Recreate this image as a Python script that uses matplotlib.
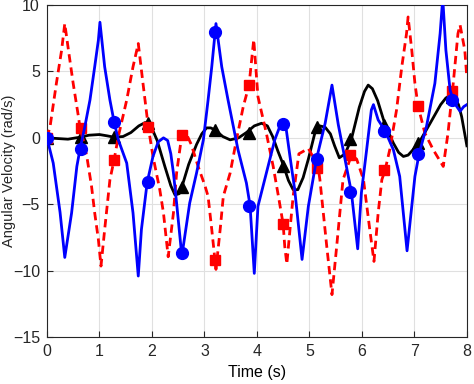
import numpy as np
import matplotlib
matplotlib.use("Agg")
import matplotlib.pyplot as plt

plt.rcParams['font.family'] = ['Liberation Sans', 'DejaVu Sans']

# Blue series (solid line, circles)
t_blue = [0, 0.12, 0.25, 0.34, 0.47, 0.57, 0.63, 0.72, 0.82, 0.91, 0.98, 1.01,
          1.1, 1.2, 1.28, 1.36, 1.52, 1.64, 1.74, 1.8, 1.91, 2.02, 2.12, 2.22,
          2.3, 2.36, 2.41, 2.47, 2.57, 2.72, 2.85, 2.98, 3.07, 3.14, 3.22, 3.33, 3.45,
          3.64, 3.8, 3.87, 3.95, 4.02, 4.18, 4.34, 4.44, 4.5, 4.56, 4.63, 4.72, 4.86, 4.98,
          5.14, 5.3, 5.43, 5.55, 5.68, 5.8, 5.92, 5.99, 6.09, 6.18, 6.22, 6.31,
          6.44, 6.6, 6.72, 6.86, 7.01, 7.09, 7.23, 7.39, 7.49, 7.54, 7.6, 7.68,
          7.74, 7.8, 7.87, 7.94, 8.0]
v_blue = [0, -1.9, -5.6, -9.0, -5.65, -2.15, -0.85, 0.8, 2.85, 5.35, 7.35, 8.7,
          5.35, 2.85, 1.2, -0.15, -1.9, -5.65, -10.4, -6.9, -3.35, -1.4, -0.3, 0.0,
          -0.2, -1.2, -2.65, -4.9, -8.9, -4.9, -2.65, -0.15, 2.85, 5.35, 8.6, 5.35, 2.85,
          -0.9, -3.4, -5.1, -10.2, -5.15, -2.65, -0.15, 0.9, 1.1, 0.6, -1.4, -3.9, -9.15, -5.15,
          -1.5, 1.1, 3.97, 1.0, -1.65, -4.1, -8.35, -4.15, -0.9, 2.1, 2.5, 1.35,
          0.55, -0.9, -2.9, -8.5, -2.9, -1.2, 0.85, 4.1, 7.85, 10.5, 6.6, 3.6,
          2.85, 2.4, 2.0, 2.35, 2.5]

# Red series (dashed line, squares)
t_red = [0, 0.06, 0.18, 0.28, 0.34, 0.41, 0.5, 0.6, 0.63, 0.69, 0.76, 0.85,
         0.91, 0.98, 1.03, 1.1, 1.2, 1.28, 1.36, 1.52, 1.64, 1.74, 1.83, 1.93,
         2.02, 2.15, 2.22, 2.31, 2.41, 2.47, 2.57, 2.65, 2.75, 2.88, 3.01, 3.07,
         3.14, 3.22, 3.3, 3.36, 3.49, 3.61, 3.74, 3.85, 3.94, 4.02, 4.18, 4.31,
         4.41, 4.5, 4.53, 4.57, 4.63, 4.69, 4.8, 4.98, 5.08, 5.17, 5.2, 5.33,
         5.43, 5.52, 5.64, 5.8, 5.9, 6.03, 6.15, 6.23, 6.31, 6.38, 6.44, 6.53,
         6.66, 6.76, 6.85, 6.88, 6.95, 7.01, 7.07, 7.2, 7.36, 7.55, 7.64, 7.74,
         7.83, 7.87, 7.96, 8.0]
v_red = [0, 0.85, 4.1, 6.6, 8.6, 6.6, 4.1, 1.6, 0.75, -0.15, -1.4, -3.65,
         -5.65, -7.65, -9.65, -6.9, -3.15, -1.65, 0.1, 2.85, 5.35, 7.1, 4.1, 0.85,
         -1.4, -3.9, -5.65, -8.95, -5.65, -2.65, 0.23, 0.35, -0.5, -2.15, -3.6, -4.4,
         -6.9, -9.9, -6.9, -4.4, -2.65, -0.15, 2.35, 3.97, 7.4, 3.1, 0.35, -2.15,
         -4.4, -6.5, -8.15, -9.5, -6.9, -4.4, -1.2, -0.8, -1.5, -2.3, -3.15, -8.15,
         -11.8, -8.15, -3.15, -1.3, -1.6, -3.15, -6.9, -9.3, -5.65, -3.15, -2.45, -0.9,
         2.1, 5.35, 7.85, 9.1, 6.6, 4.1, 2.4, 0.35, -0.9, -2.15, 0.35, 4.1,
         7.85, 8.5, 6.6, 4.5]

# Black series (solid line, triangles)
t_black = [0, 0.2, 0.4, 0.63, 0.8, 1.0, 1.15, 1.28, 1.45, 1.6, 1.75, 1.87,
           1.97, 2.1, 2.25, 2.36, 2.44, 2.52, 2.57, 2.7, 2.85, 2.95, 3.04, 3.12, 3.2, 3.35,
           3.49, 3.65, 3.8, 3.95, 4.09, 4.2, 4.3, 4.4, 4.5, 4.6, 4.69, 4.78, 4.88, 4.98,
           5.1, 5.2, 5.3, 5.4, 5.48, 5.57, 5.68, 5.8, 5.95, 6.05, 6.12, 6.2, 6.3,
           6.44, 6.6, 6.7, 6.79, 6.88, 6.95, 7.09, 7.3, 7.5, 7.6, 7.68, 7.76,
           7.84, 7.9, 8.0]
v_black = [0, -0.05, -0.1, 0.05, 0.2, 0.25, 0.15, 0.05, 0.1, 0.4, 0.9, 1.15,
           1.0, -0.2, -2.2, -3.6, -4.3, -4.2, -3.7, -2.0, -0.5, 0.3, 0.75, 0.75, 0.6, 0.1,
           -0.15, 0.0, 0.4, 0.9, 1.1, 0.9, 0.1, -1.0, -2.0, -3.2, -3.9, -3.9, -3.0, -1.6,
           0.3, 0.9, 0.8, 0.3, -0.6, -1.5, -1.2, -0.1, 2.3, 3.5, 3.97, 3.7, 2.8,
           1.0, -0.4, -1.1, -1.4, -1.3, -1.0, -0.35, 1.1, 2.5, 3.0, 3.2, 3.0,
           2.5, 1.6, -0.6]

# Marker positions
t_mark = [0, 0.64, 1.28, 1.93, 2.57, 3.21, 3.85, 4.5, 5.14, 5.78, 6.43, 7.07, 7.71]
blue_mark = [0, -0.85, 1.2, -3.35, -8.7, 8.0, -5.15, 1.05, -1.6, -4.1, 0.5, -1.2, 2.85]
red_mark = [0, 0.75, -1.65, 0.85, 0.23, -9.2, 3.97, -6.5, -2.3, -1.3, -2.45, 2.4, 3.5]
black_mark = [0, 0.05, 0.05, 1.1, -3.7, 0.6, 0.35, -2.1, 0.8, -0.1, 1.0, -0.4, 3.1]

fig = plt.figure(figsize=(4.74, 3.84), dpi=100)
ax = fig.add_axes([0.099, 0.122, 0.886, 0.865])

ax.plot(t_black, v_black, color='black', lw=2.0, zorder=3)
ax.plot(t_mark, black_mark, ls='none', marker='^', ms=9, color='black', zorder=3)

ax.plot(t_red, v_red, color='#ff0000', lw=2.0, ls=(0, (3.0, 1.8)), zorder=4)
ax.plot(t_mark, red_mark, ls='none', marker='s', ms=6.5, color='#ff0000', zorder=4)

ax.plot(t_blue, v_blue, color='#0000ff', lw=2.0, zorder=5)
ax.plot(t_mark, blue_mark, ls='none', marker='o', ms=8.5, color='#0000ff', zorder=5)

ax.set_xlim(0, 8)
ax.set_ylim(-15, 10)
ax.set_xticks(np.arange(0, 9, 1))
ax.set_yticks(np.arange(-15, 11, 5))
ax.grid(True, color='#e0e0e0', lw=0.8)
ax.set_axisbelow(True)
ax.tick_params(direction='in', length=4, labelsize=11.5, colors='#262626', pad=5)
for s in ax.spines.values():
    s.set_color('#262626')
    s.set_linewidth(0.8)

ax.set_xlabel('Time (s)', fontsize=11.5, labelpad=4)
# y label placed in figure coords so it stays inside the left edge
fig.text(9 / 474, 0.122 + 0.865 / 2, 'Angular Velocity (rad/s)', rotation=90,
         ha='center', va='center', fontsize=10.5, color='#262626')

fig.savefig('out.png', dpi=100)
